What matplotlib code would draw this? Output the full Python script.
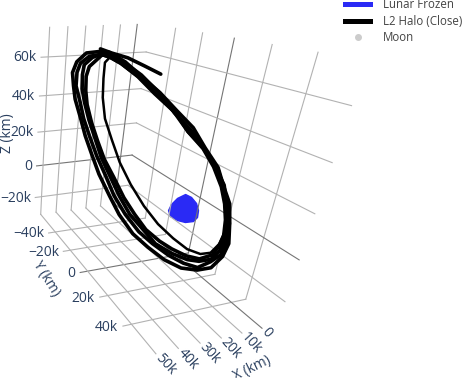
import matplotlib
matplotlib.use("Agg")
import matplotlib.pyplot as plt
import numpy as np
from matplotlib.lines import Line2D
from mpl_toolkits.mplot3d import proj3d
from mpl_toolkits.mplot3d.art3d import Poly3DCollection

plt.rcParams['font.family'] = ['Open Sans', 'DejaVu Sans']

# L2 halo orbit revolutions, thousands of km (x, y, z)
halo_rev_1 = [(49, -10, 70), (47, -26, 67), (45, -39, 61), (42, -49, 54), (38, -55, 46), (35, -58, 38),
              (30, -60, 27), (26, -60, 16), (21, -59, 4), (17, -56, -7), (12, -50, -19), (9, -42, -28),
              (7, -29, -34), (7, -14, -34), (9, 3, -31), (12, 19, -25), (15, 32, -17), (20, 44, -7),
              (24, 52, 4), (29, 58, 14), (33, 60, 24), (36, 61, 32), (39, 60, 38), (41, 58, 44),
              (43, 53, 49), (44, 47, 54), (46, 40, 58), (47, 31, 62), (49, 21, 66), (49, 10, 69),
              (50, -1, 71), (49, -10, 70)]
halo_rev_2 = [(49, -9, 69), (47, -23, 66), (45, -35, 61), (42, -44, 55), (39, -50, 47), (35, -52, 38),
              (31, -54, 28), (27, -53, 18), (23, -50, 7), (18, -47, -4), (14, -42, -15), (11, -33, -23),
              (9, -21, -28), (9, -8, -28), (11, 8, -25), (14, 22, -20), (17, 34, -14), (21, 44, -4),
              (25, 52, 5), (29, 57, 15), (32, 59, 23), (36, 60, 31), (38, 59, 37), (40, 57, 43),
              (42, 52, 48), (44, 46, 53), (46, 39, 57), (47, 30, 62), (48, 20, 66), (49, 8, 69),
              (49, -2, 70), (49, -9, 69)]
halo_rev_3 = [(49, -9, 69), (47, -20, 66), (45, -31, 61), (42, -38, 55), (39, -43, 47), (35, -47, 39),
              (31, -48, 29), (27, -47, 19), (23, -45, 8), (19, -40, -2), (15, -35, -12), (13, -26, -19),
              (11, -15, -23), (12, -2, -24), (13, 12, -21), (15, 25, -16), (18, 35, -10), (22, 45, -2),
              (26, 52, 7), (29, 56, 16), (33, 59, 24), (36, 60, 31), (38, 59, 38), (40, 56, 43),
              (42, 52, 48), (44, 45, 52), (45, 38, 57), (47, 29, 61), (48, 19, 65), (49, 7, 68),
              (49, -2, 69), (49, -9, 69)]
halo_rev_4 = [(49, -8, 69), (47, -17, 65), (45, -26, 61), (42, -34, 55), (39, -39, 47), (36, -42, 39),
              (32, -43, 29), (28, -42, 19), (24, -40, 9), (20, -35, 0), (16, -29, -10), (14, -20, -16),
              (13, -10, -20), (13, 2, -20), (15, 14, -17), (17, 26, -13), (19, 36, -8), (22, 45, 0),
              (26, 51, 8), (30, 56, 16), (33, 58, 24), (36, 59, 31), (38, 58, 37), (40, 55, 43),
              (42, 51, 48), (44, 45, 52), (45, 37, 57), (47, 28, 61), (48, 18, 65), (49, 7, 68),
              (49, -2, 69), (49, -8, 69)]
halo_rev_5 = [(50, 1, 70), (48, -7, 66), (44, -14, 58), (40, -20, 48), (36, -23, 37), (31, -23, 26),
              (27, -20, 15), (23, -14, 5), (20, -5, -3), (18, 5, -8), (18, 17, -9), (19, 28, -8),
              (21, 38, -4), (24, 46, 2), (27, 52, 10), (30, 56, 18), (34, 59, 26), (36, 59, 33),
              (38, 58, 38), (40, 56, 43), (42, 51, 48), (44, 45, 53), (45, 37, 57), (47, 29, 61),
              (48, 18, 65), (49, 8, 68), (50, 1, 70)]
halo_tail = [(49, -10, 71), (50, 1, 71), (50, 13, 71), (50, 24, 70), (50, 34, 69)]

# envelope of the lunar frozen orbit around the Moon
frozen_envelope = [(0.4, -1.4, 2.5), (-2.2, 0.0, 1.2), (-4.1, 2.0, -1.4), (-4.6, 3.7, -4.5),
                   (-3.7, 5.0, -7.5), (-1.6, 5.2, -9.3), (2.2, 4.3, -9.7), (5.8, 2.8, -8.8),
                   (8.8, 1.0, -7.1), (9.3, -0.5, -4.5), (7.6, -1.3, -1.9), (4.4, -1.7, 0.8),
                   (0.4, -1.4, 2.5)]
moon = (0, 0, 0)

x_range = (-7.74, 53.98)
y_range = (-62.20, 57.46)
z_range = (-31.83, 74.39)
x_ticks = [0, 10, 20, 30, 40, 50]
y_ticks = [-40, -20, 0, 20, 40]
z_ticks = [-20, 0, 20, 40, 60]

tick_color = '#2a3f5f'
blue = '#2a2af5'

# camera of the original scene: eye, angles, focal length and centre in pixels
eye = np.array([147.25, 169.17, 99.29])
elev, azim = 26.16, 73.39
focal_px = 467.3
centre_px = (-4.16, 201.63)

W, H = 474, 378
side = 1100.0
focal = 0.185 * focal_px / side
el, az = np.radians(elev), np.radians(azim)
look = np.array([np.cos(el) * np.cos(az), np.cos(el) * np.sin(az), np.sin(el)])
cube = 100.0
box = 1.8294640721620434 * 25 / 24 / np.sqrt(3)
mid = eye - 10 * focal * (cube / box) * look

fig = plt.figure(figsize=(W / 100, H / 100), dpi=100)
left = centre_px[0] - side * 0.095 / 0.185
bottom = (H - centre_px[1]) - side * 0.095 / 0.185
ax = fig.add_axes([left / W, bottom / H, side / W, side / H], projection='3d')
ax.set_box_aspect((1, 1, 1))
ax.set_proj_type('persp', focal_length=focal)
ax.view_init(elev=elev, azim=azim)
ax.set_xlim(mid[0] - cube / 2, mid[0] + cube / 2)
ax.set_ylim(mid[1] - cube / 2, mid[1] + cube / 2)
ax.set_zlim(mid[2] - cube / 2, mid[2] + cube / 2)
ax.set_axis_off()
ax.computed_zorder = False
M = ax.get_proj()

x0, x1 = x_range
y0, y1 = y_range
z0, z1 = z_range


def gcol(v):
    return '#757575' if v == 0 else '#b2b2b2'


def kfmt(v):
    if v == 0:
        return '0'
    return ('\u2212' if v < 0 else '') + f'{abs(v)}k'


def label(x, y, z, s, **kw):
    xs, ys, _ = proj3d.proj_transform(x, y, z, M)
    ax.text2D(xs, ys, s, transform=ax.transData, color=tick_color, fontsize=10, **kw)


# back walls and floor, as in the plotly scene
for y in y_ticks:
    ax.plot([x0, x0], [y, y], [z0, z1], color=gcol(y), lw=0.8)
    ax.plot([x0, x1], [y, y], [z0, z0], color=gcol(y), lw=0.8)
    label(x1 + 2.5, y, z0, kfmt(y), ha='right', va='center')
for z in z_ticks:
    ax.plot([x0, x0], [y0, y1], [z, z], color=gcol(z), lw=0.8)
    ax.plot([x0, x1], [y0, y0], [z, z], color=gcol(z), lw=0.8)
    label(x1 + 2.5, y0, z, kfmt(z), ha='right', va='center')
for x in x_ticks:
    ax.plot([x, x], [y0, y0], [z0, z1], color=gcol(x), lw=0.8)
    ax.plot([x, x], [y0, y1], [z0, z0], color=gcol(x), lw=0.8)
    label(x, y1 + 1, z0, kfmt(x), ha='left', va='center', rotation=-48, rotation_mode='anchor')

ax.scatter(*[[c] for c in moon], color='#cccccc', s=10)
fx, fy, fz = zip(*frozen_envelope)
ax.add_collection3d(Poly3DCollection([list(zip(fx, fy, fz))], facecolor=blue, edgecolor=blue, lw=1))

for rev in (halo_rev_1, halo_rev_2, halo_rev_3, halo_rev_4, halo_tail):
    hx, hy, hz = zip(*rev)
    ax.plot(hx, hy, hz, color='black', lw=2.6, solid_capstyle='round')
hx, hy, hz = zip(*halo_rev_5)
ax.plot(hx, hy, hz, color='black', lw=1.8)

fig.text(7 / W, 1 - 133 / H, 'Z (km)', rotation=90, ha='center', va='center', color=tick_color, fontsize=10)
fig.text(46 / W, 1 - 278 / H, 'Y (km)', rotation=-58, ha='center', va='center', color=tick_color, fontsize=10)
fig.text(252 / W, 1 - 368 / H, 'X (km)', rotation=26, ha='center', va='center', color=tick_color, fontsize=10)

handles = [Line2D([], [], color=blue, lw=3.6), Line2D([], [], color='black', lw=3.6),
           Line2D([], [], color='#cccccc', marker='o', ls='', ms=4)]
fig.legend(handles, ['Lunar Frozen', 'L2 Halo (Close)', 'Moon'], loc='upper left',
           bbox_to_anchor=(345 / W, 1.004), frameon=False, fontsize=8.3, labelcolor='#444444',
           handlelength=2.2, handletextpad=1.1, labelspacing=0.28, borderpad=0, borderaxespad=0)

fig.savefig('out.png', dpi=100)
